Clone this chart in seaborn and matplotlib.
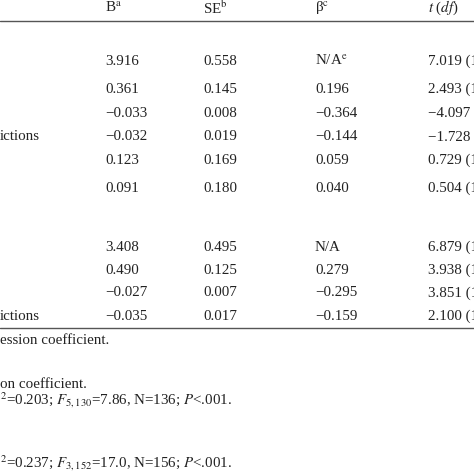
import matplotlib
matplotlib.use("Agg")
import matplotlib.pyplot as plt
import seaborn as sns

sns.set_theme(style="white")
plt.rcParams['font.family'] = ['Liberation Serif', 'DejaVu Serif']
plt.rcParams['mathtext.fontset'] = 'stix'

# table content
headers = ["B$^{\\mathrm{a}}$", "SE$^{\\mathrm{b}}$", "β$^{\\mathrm{c}}$", "$t$ ($df$)"]
b_vals_1 = ["3.916", "0.361", "\u22120.033", "\u22120.032", "0.123", "0.091"]
se_vals_1 = ["0.558", "0.145", "0.008", "0.019", "0.169", "0.180"]
beta_vals_1 = ["N/A$^{\\mathrm{e}}$", "0.196", "\u22120.364", "\u22120.144", "0.059", "0.040"]
t_vals_1 = ["7.019 (130)", "2.493 (130)", "\u22124.097 (130)", "\u22121.728 (130)", "0.729 (130)", "0.504 (130)"]
labels_1 = ["", "", "", "ictions", "", ""]

b_vals_2 = ["3.408", "0.490", "\u22120.027", "\u22120.035"]
se_vals_2 = ["0.495", "0.125", "0.007", "0.017"]
beta_vals_2 = ["N/A", "0.279", "\u22120.295", "\u22120.159"]
t_vals_2 = ["6.879 (152)", "3.938 (152)", "3.851 (152)", "2.100 (152)"]
labels_2 = ["", "", "", "ictions"]

footnotes = ["ession coefficient.",
             "on coefficient.",
             "$^2$=0.203; $F_{5,130}$=7.86, N=136; $P$<.001.",
             "$^2$=0.237; $F_{3,152}$=17.0, N=156; $P$<.001."]

col_x = [105, 203, 315, 428]
rows_y_1 = [61, 89, 113, 137, 160, 188]
rows_y_2 = [247, 270, 293, 316]
foot_y = [341, 385, 400, 463]

fig = plt.figure(figsize=(4.74, 4.74), dpi=100)
ax = fig.add_axes([0, 0, 1, 1])
ax.set_xlim(0, 474)
ax.set_ylim(474, 0)
ax.axis("off")

fs = 10.8
for x, h in zip(col_x, headers):
    ax.text(x, 8, h, fontsize=fs, va="center", ha="left", color="#222222")
ax.plot([0, 474], [21, 21], color="#555555", lw=1.0)

def draw_block(ys, labels, cols):
    for i, y in enumerate(ys):
        if labels[i]:
            ax.text(0, y, labels[i], fontsize=fs, va="center", ha="left", color="#222222")
        for x, vals in zip(col_x, cols):
            ax.text(x, y, vals[i], fontsize=fs, va="center", ha="left", color="#222222",
                    clip_on=True)

draw_block(rows_y_1, labels_1, [b_vals_1, se_vals_1, beta_vals_1, t_vals_1])
draw_block(rows_y_2, labels_2, [b_vals_2, se_vals_2, beta_vals_2, t_vals_2])
ax.plot([0, 474], [328, 328], color="#555555", lw=1.0)

for y, f in zip(foot_y, footnotes):
    ax.text(0, y, f, fontsize=fs, va="center", ha="left", color="#222222")

fig.savefig("out.png", dpi=100)
